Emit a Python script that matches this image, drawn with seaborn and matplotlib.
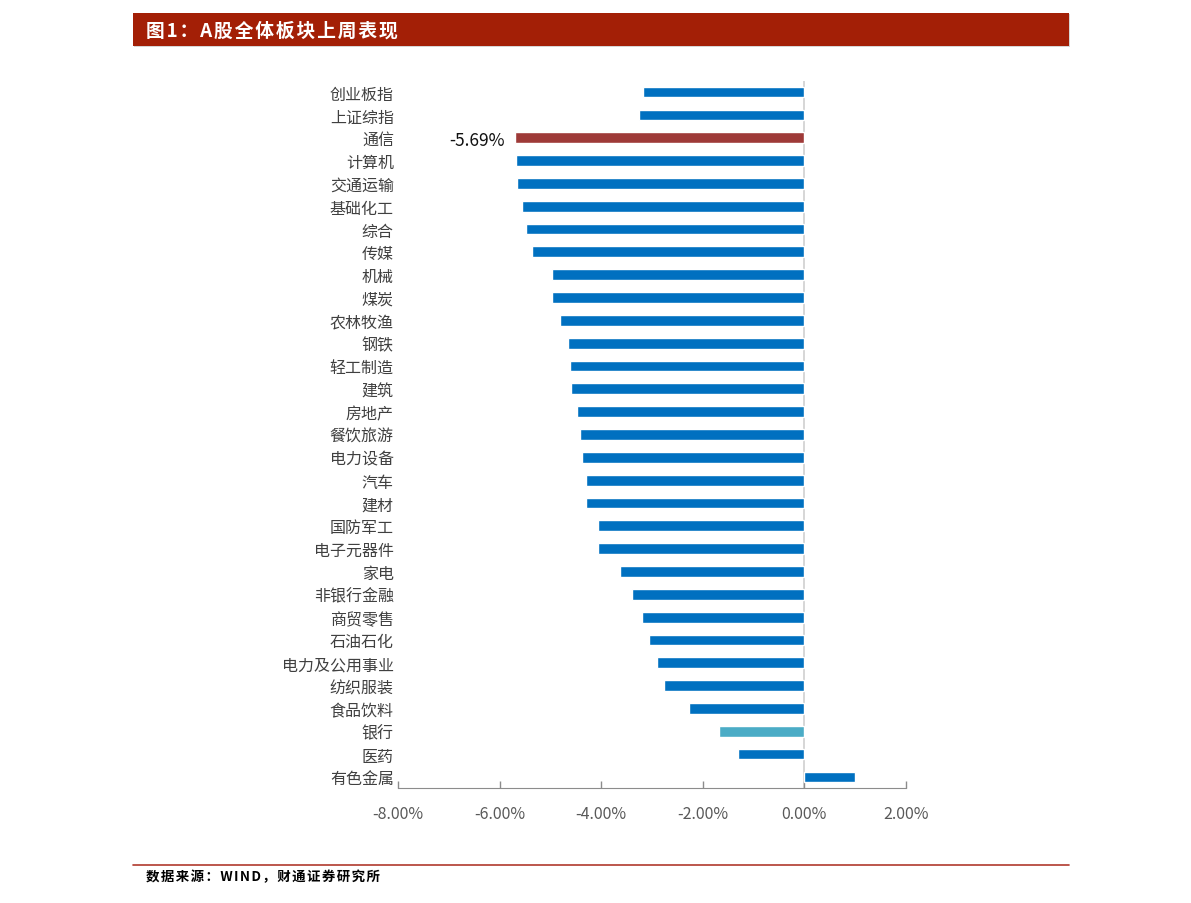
import numpy as np
import pandas as pd
import seaborn as sns
import matplotlib.pyplot as plt
from matplotlib.patches import Rectangle
from matplotlib.lines import Line2D
from matplotlib.ticker import FuncFormatter

# sector names, top to bottom
sectors = ['创业板指', '上证综指', '通信', '计算机', '交通运输', '基础化工', '综合', '传媒',
           '机械', '煤炭', '农林牧渔', '钢铁', '轻工制造', '建筑', '房地产', '餐饮旅游',
           '电力设备', '汽车', '建材', '国防军工', '电子元器件', '家电', '非银行金融',
           '商贸零售', '石油石化', '电力及公用事业', '纺织服装', '食品饮料', '银行', '医药',
           '有色金属']
# weekly change, %
changes = [-3.17, -3.25, -5.69, -5.67, -5.65, -5.55, -5.49, -5.37,
           -4.96, -4.96, -4.82, -4.65, -4.61, -4.59, -4.47, -4.41,
           -4.37, -4.29, -4.29, -4.06, -4.06, -3.64, -3.39,
           -3.19, -3.05, -2.91, -2.76, -2.28, -1.69, -1.30,
           1.00]
xticks = [-8, -6, -4, -2, 0, 2]

blue, red, teal = '#0070C0', '#9E3A38', '#4BACC6'
colors = [red if s == '通信' else teal if s == '银行' else blue for s in sectors]

df = pd.DataFrame({'sector': sectors, 'change': changes})

sns.set_style('white')
plt.rcParams['font.family'] = ['Noto Sans CJK SC', 'DejaVu Sans']

fig = plt.figure(figsize=(11.91, 9.04), dpi=100)
ax = fig.add_axes([0.3342, 0.1268, 0.4265, 0.7829])

sns.barplot(data=df, x='change', y='sector', hue='sector', palette=colors,
            legend=False, orient='h', width=0.47, ax=ax, saturation=1)

ax.set_xlim(-8, 2)
ax.set_xticks(xticks)
ax.xaxis.set_major_formatter(FuncFormatter(lambda v, _: f'{v:.2f}%'))
ax.set_xlabel('')
ax.set_ylabel('')
for s in ['top', 'right', 'left']:
    ax.spines[s].set_visible(False)
ax.spines['bottom'].set_color('#8c8c8c')
ax.axvline(0, color='#d0d0d0', lw=1.2, zorder=0)
ax.tick_params(axis='x', bottom=True, direction='in', length=5, width=1,
               color='#8c8c8c', labelsize=11.5, labelcolor='#595959', pad=12)
ax.tick_params(axis='y', left=False, length=0, labelsize=11.5, labelcolor='#404040', pad=3)

# label on the highlighted bar
i = sectors.index('通信')
ax.text(changes[i] - 0.2, i + 0.1, f'{changes[i]:.2f}%', ha='right', va='center',
        fontsize=12.5, color='#111111')

# header bar
fig.patches.append(Rectangle((134 / 1191, 1 - 48 / 904), 936 / 1191, 33 / 904,
                             transform=fig.transFigure, facecolor='#8a8a8a',
                             edgecolor='none', alpha=0.35))
fig.patches.append(Rectangle((133 / 1191, 1 - 47 / 904), 936 / 1191, 33 / 904,
                             transform=fig.transFigure, facecolor='#A31F06',
                             edgecolor='none'))
fig.text(146 / 1191, 1 - 31 / 904, '\u200a'.join('图1：A股全体板块上周表现'), color='white',
         fontsize=13.5, fontweight='bold', va='center', ha='left')

# footer
fig.lines.append(Line2D([133 / 1191, 1069 / 1191], [1 - 866 / 904, 1 - 866 / 904],
                        transform=fig.transFigure, color='#B03A2E', lw=1.2))
fig.text(146 / 1191, 1 - 877 / 904, '\u200a'.join('数据来源：WIND，财通证券研究所'),
         color='black', fontsize=9.7, fontweight='bold', va='center', ha='left')

fig.savefig('out.png', dpi=100)
